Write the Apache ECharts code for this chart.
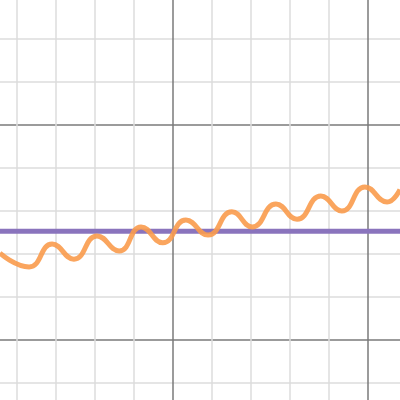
<!DOCTYPE html>
<html>
<head>
<meta charset="utf-8">
<script src="https://cdn.jsdelivr.net/npm/echarts@6/dist/echarts.min.js"></script>
<style>
html,body{margin:0;padding:0;background:#fff;overflow:hidden;width:400px;height:400px}
#c{position:absolute;left:-22px;top:-4px;width:429px;height:430px}
</style>
</head>
<body>
<div id="c"></div>
<script>
// wave: peaks and troughs
var waveX = [-4.44, -3.69, -3.10, -2.54, -1.95, -1.38, -0.82, -0.26, 0.33, 0.90, 1.51, 2.03, 2.64, 3.18, 3.79, 4.33, 4.92, 5.49, 5.82];
var waveY = [2.02, 1.70, 2.23, 1.88, 2.42, 2.07, 2.63, 2.26, 2.79, 2.44, 2.98, 2.63, 3.16, 2.81, 3.35, 3.00, 3.56, 3.21, 3.50];
var flatX = [-5, 6];
var flatY = [2.53, 2.53];

function pairs(xs, ys) {
    return xs.map(function (x, i) { return [x, ys[i]]; });
}

var chart = echarts.init(document.getElementById('c'));
chart.setOption({
    animation: false,
    grid: { left: 0, right: 0, top: 0, bottom: 0 },
    xAxis: {
        type: 'value', min: -5, max: 6, interval: 1,
        axisLine: { show: false }, axisTick: { show: false }, axisLabel: { show: false },
        splitLine: { lineStyle: { color: ['#7a7a7a', '#dcdcdc', '#dcdcdc', '#dcdcdc', '#dcdcdc'], width: 1.5 } }
    },
    yAxis: {
        type: 'value', min: -2, max: 8, interval: 1,
        axisLine: { show: false }, axisTick: { show: false }, axisLabel: { show: false },
        splitLine: { lineStyle: { color: ['#dcdcdc', '#dcdcdc', '#7a7a7a', '#dcdcdc', '#dcdcdc'], width: 1.5 } }
    },
    series: [{
        type: 'line', data: pairs(flatX, flatY), symbol: 'none',
        lineStyle: { color: '#8a74bd', width: 5 }
    }, {
        type: 'line', data: pairs(waveX, waveY), symbol: 'none', smooth: 0.5,
        lineStyle: { color: '#fa9b4d', width: 5, opacity: 0.9 }
    }]
});
</script>
</body>
</html>
